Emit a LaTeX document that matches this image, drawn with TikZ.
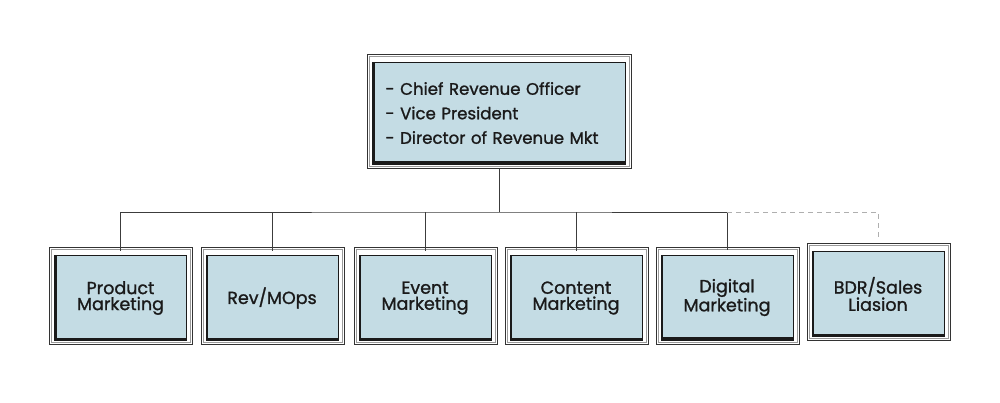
\documentclass[tikz,border=0pt]{standalone}
\usepackage{fontspec}
\setmainfont{Poppins}[FakeBold=1.2]
\usepackage{tikz}
\usetikzlibrary{positioning,calc}
\definecolor{boxblue}{RGB}{196, 220, 228}
\definecolor{inkblack}{RGB}{26, 26, 26}
\definecolor{linegray}{RGB}{60, 60, 60}
\definecolor{dashgray}{RGB}{175, 175, 175}

\tikzset{
    unitbox/.style={fill=boxblue, draw=inkblack, line width=1pt, minimum width=132pt, minimum height=85pt,
        inner sep=0pt, outer sep=5pt, align=center, text=inkblack, font=\fontsize{17.5}{16}\selectfont},
    headbox/.style={unitbox, minimum width=253pt, minimum height=102pt, text width=227pt, inner xsep=13pt,
        align=left, font=\fontsize{16.6}{24.5}\selectfont},
    frame/.style={draw=black!80, line width=0.9pt},
    bevel/.style={draw=black!40, line width=0.6pt},
    conn/.style={draw=linegray, line width=0.7pt},
    dashconn/.style={draw=dashgray, line width=0.7pt, dash pattern=on 5pt off 4pt}
}

\begin{document}
\begin{tikzpicture}[x=1pt, y=-1pt]
    \useasboundingbox[fill=white] (0,0) rectangle (1000,402);

    % head of the team
    \node[headbox] (head) at (499,113) {- Chief Revenue Officer\\- Vice President\\- Director of Revenue Mkt};

    % units
    \node[unitbox] (pm)  at (120.5,298) {Product\\Marketing};
    \node[unitbox] (rev) at (272,298)   {Rev/MOps};
    \node[unitbox] (evt) at (425,298)   {Event\\Marketing};
    \node[unitbox] (cnt) at (576,298)   {Content\\Marketing};
    \node[unitbox] (dig) at (727,297.5) {Digital\\Marketing};
    \node[unitbox] (bdr) at (878,294)   {BDR/Sales\\Liasion};

    % sketchy frames
    \foreach \n in {head,pm,rev,evt,cnt,dig,bdr} {
        \draw[frame] ($(\n.north west)+(0,-3)$) rectangle ($(\n.south east)+(1,-1)$);
        \draw[bevel] ($(\n.north west)+(2,-1)$) rectangle ($(\n.south east)+(-1,-3)$);
        \draw[inkblack, line width=3.5pt] ($(\n.south west)+(5,-6)$) -- ($(\n.south east)+(-5,-6)$);
        \draw[inkblack, line width=2.5pt] ($(\n.south west)+(6,-5)$) -- ($(\n.north west)+(6,5)$);
    }

    % connectors
    \coordinate (bus) at (499,212);
    \draw[conn] (head.south) -- (bus);
    \draw[conn] (pm.north) |- (bus) -| (dig.north);
    \foreach \n in {rev,evt,cnt}
        \draw[conn] (\n.north) -- (\n.north |- bus);
    \draw[dashconn] (dig.north |- bus) -| ($(bdr.north)+(0,-8)$);
\end{tikzpicture}
\end{document}
